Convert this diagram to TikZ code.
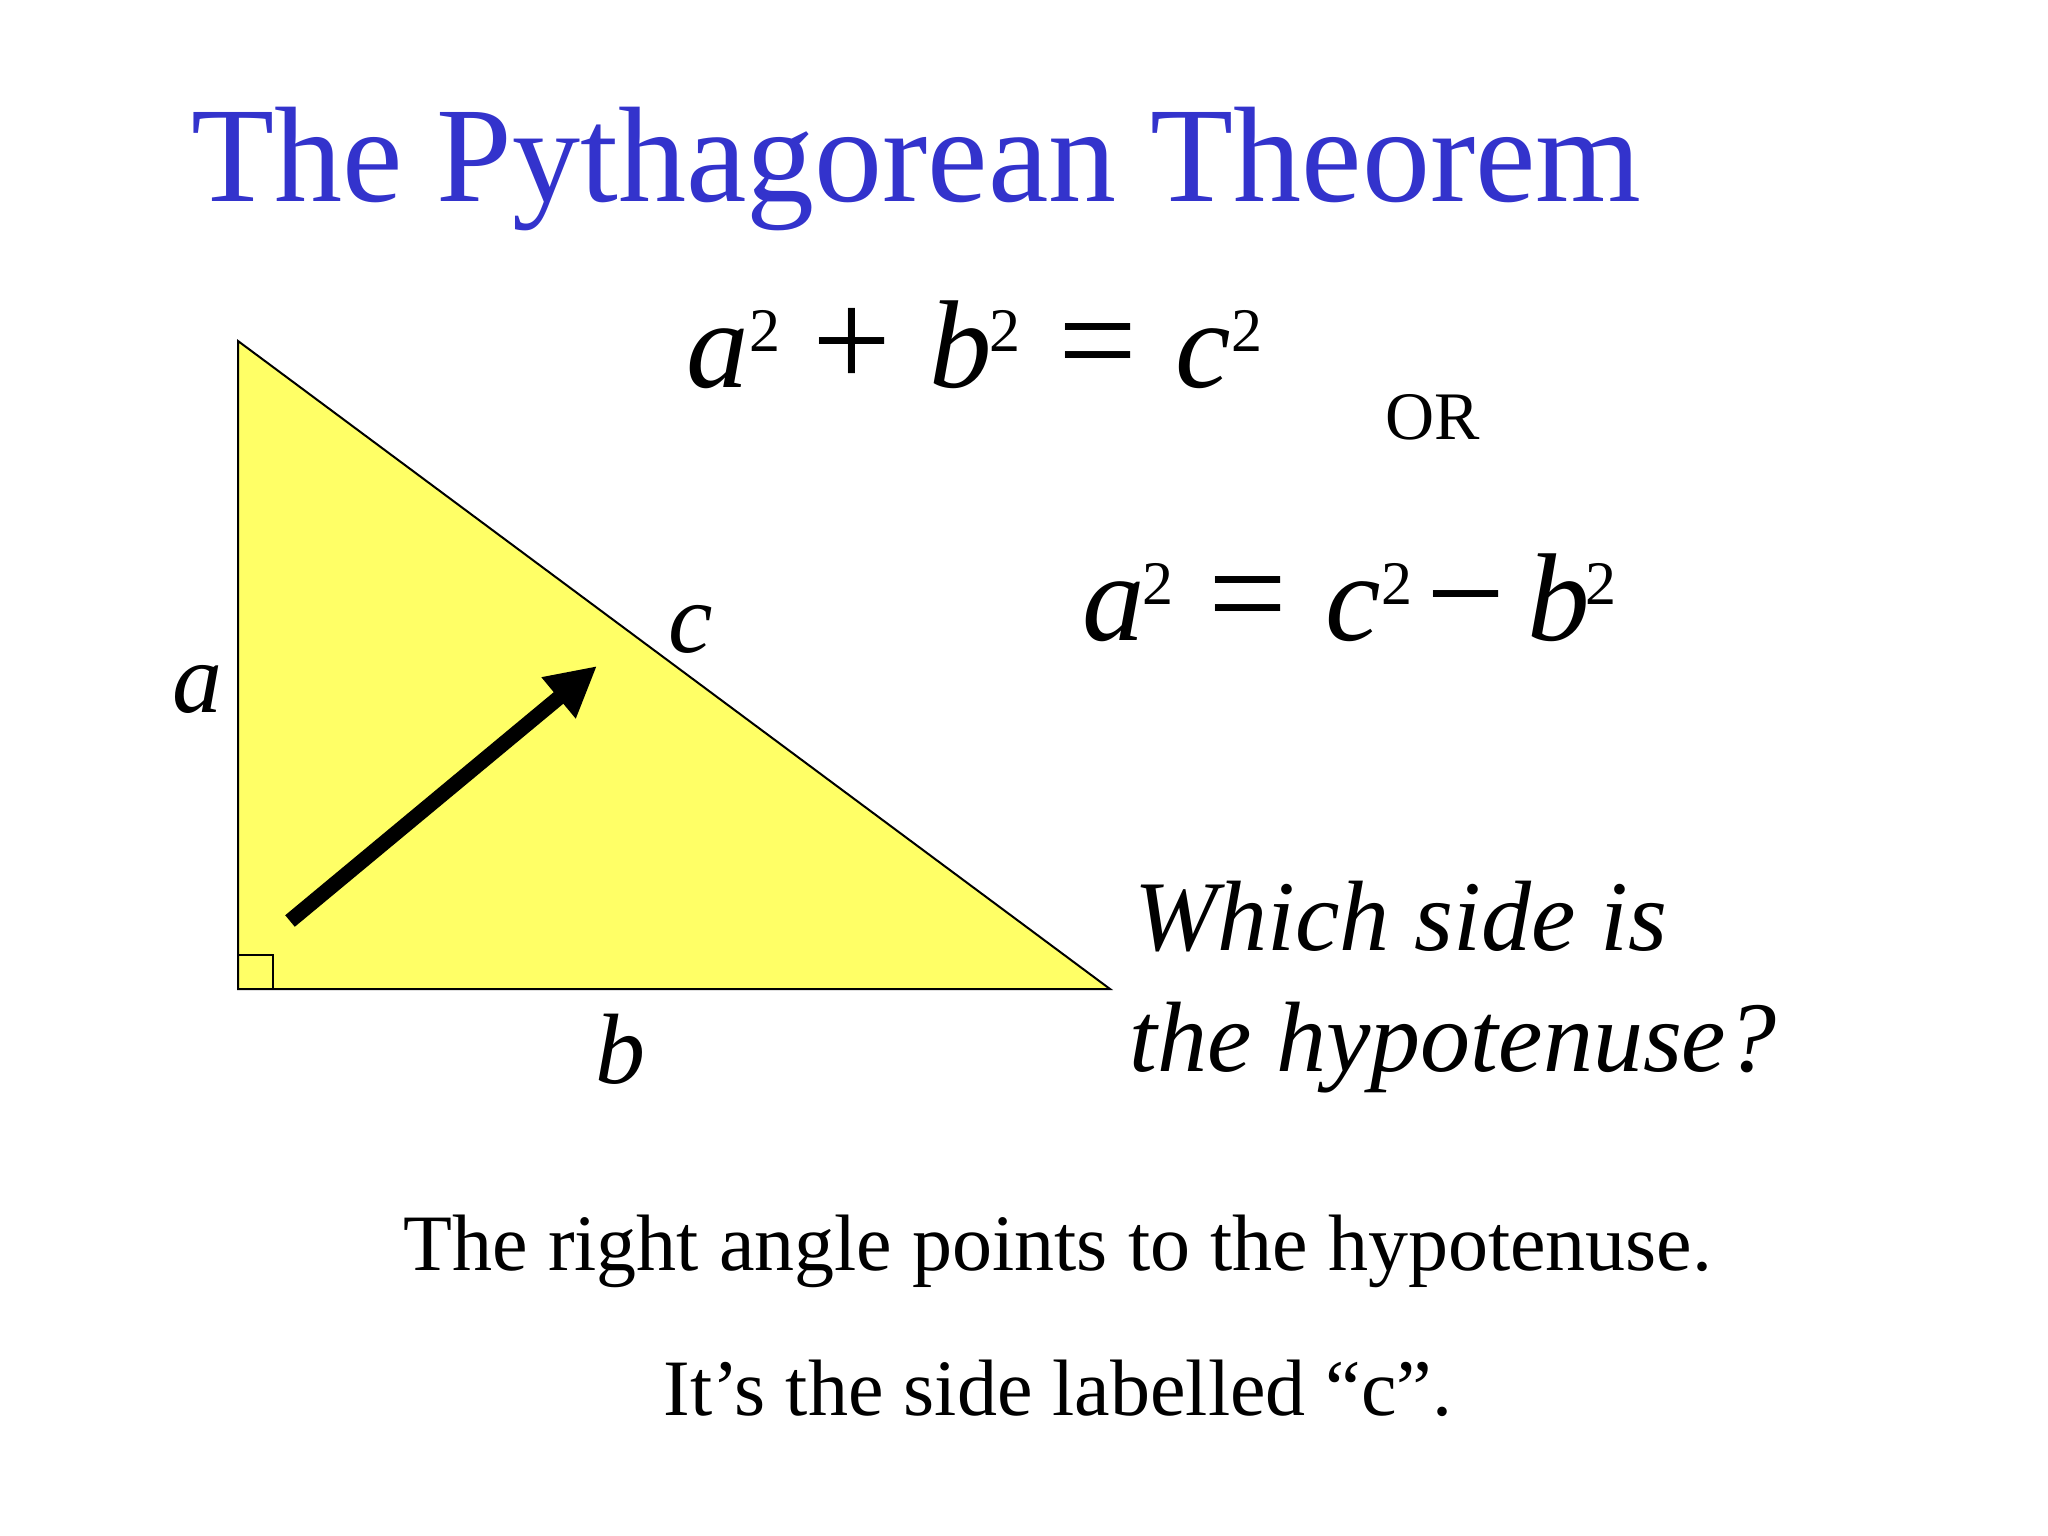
\documentclass[tikz,border=0pt]{standalone}
\usepackage{fontspec}
\setmainfont{Liberation Serif}
\usetikzlibrary{arrows.meta}
\definecolor{titleblue}{RGB}{51,51,204}
\definecolor{triyellow}{RGB}{255,255,102}
\newcommand{\fsz}[1]{\fontsize{#1}{#1}\selectfont}
\newcommand{\sqd}{\raisebox{36pt}{\fsz{62}2}}
\newcommand{\opr}[1]{{\fsz{140}#1}}
\begin{document}
\begin{tikzpicture}[x=1pt,y=-1pt,
  lbl/.style={anchor=base west,inner sep=0pt,font=\fsz{100}\itshape},
  txt/.style={anchor=base west,inner sep=0pt}]
\useasboundingbox (0,0) rectangle (2048,1536);
\coordinate (top) at (238,341); \coordinate (ra) at (238,989); \coordinate (br) at (1110,989);
\coordinate (arrtail) at (290,921); \coordinate (arrtip) at (597,666);
\node[txt,font=\fsz{136},text=titleblue](title) at (191,201){The Pythagorean Theorem};
\draw[fill=triyellow,line width=2pt](top)--(ra)--(br)--cycle;
\draw[line width=2.5pt](ra) rectangle ++(35,-34);
\draw[line width=15pt,-{Triangle[length=50pt,width=50pt]}](arrtail)--(arrtip);
\node[lbl](la) at (172,712){a};
\node[lbl](lb) at (595,1083){b};
\node[lbl](lc) at (668,652){c};
\node[txt,font=\fsz{125}](eqsum) at (686,387){\textit{a}\hspace{1pt}\sqd\hspace{32pt}\opr{+}\hspace{38pt}\textit{b}\hspace{-3pt}\sqd\hspace{38pt}\opr{=}\hspace{38pt}\textit{c}\hspace{1pt}\sqd};
\node[txt,font=\fsz{68}](or) at (1385,439){OR};
\node[txt,font=\fsz{125}](eqdiff) at (1082,640){\textit{a}\hspace{-2pt}\sqd\hspace{35pt}\opr{=}\hspace{38pt}\textit{c}\hspace{0pt}\sqd\hspace{14pt}\opr{\char"2212}\hspace{22pt}\textit{b}\hspace{-4pt}\sqd};
\node[txt,font=\fsz{100}\itshape](ask1) at (1134,950){Which side is};
\node[txt,font=\fsz{100}\itshape](ask2) at (1129,1071){the hypotenuse?};
\node[anchor=base,inner sep=0pt,font=\fsz{80}](ans1) at (1058,1270){The right angle points to the hypotenuse.};
\node[anchor=base,inner sep=0pt,font=\fsz{80}](ans2) at (1058,1415){It’s the side labelled “c”.};
\end{tikzpicture}
\end{document}
